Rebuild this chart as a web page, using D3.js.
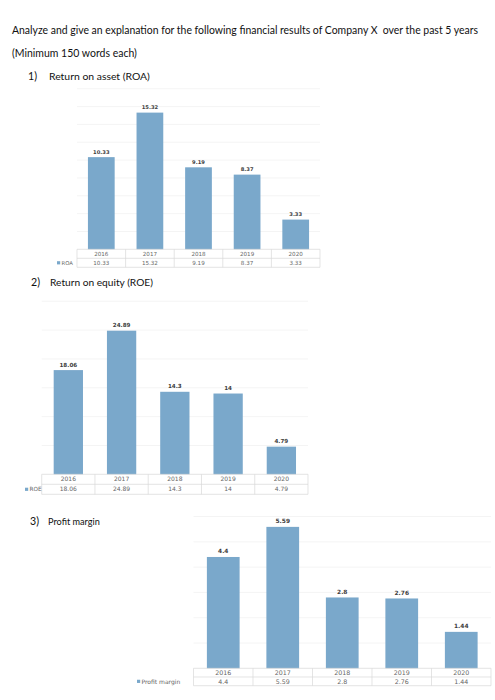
<!DOCTYPE html>
<html>
<head>
<meta charset="utf-8">
<script src="https://cdn.jsdelivr.net/npm/d3@7"></script>
<style>
  body { margin: 0; background: #fff; }
  svg { display: block; }
  .doc { font-family: Lato, "Open Sans", sans-serif; fill: #111; }
  .chart text { font-family: "DejaVu Sans", Verdana, sans-serif; }
</style>
</head>
<body>
<svg id="page"></svg>
<script>
// Data
const years = ["2016", "2017", "2018", "2019", "2020"];
const roa = [10.33, 15.32, 9.19, 8.37, 3.33];
const roe = [18.06, 24.89, 14.3, 14, 4.79];
const profitMargin = [4.4, 5.59, 2.8, 2.76, 1.44];

const roaTicks = [0, 2, 4, 6, 8, 10, 12, 14, 16, 18];
const roeTicks = [0, 5, 10, 15, 20, 25, 30];
const pmTicks = [0, 1, 2, 3, 4, 5, 6];

const width = 495;
const height = 700;
const barColor = "#7aa8cb";

const svg = d3.select("#page")
    .attr("width", width)
    .attr("height", height);

svg.append("rect").attr("width", width).attr("height", height).attr("fill", "#fff");

// Document text: scale the font so each line spans the width seen in the picture
const doc = svg.append("g").attr("class", "doc");

function fitText(x, y, str, target) {
    const t = doc.append("text").attr("x", x).attr("y", y).attr("font-size", 11).text(str);
    const w = t.node().getComputedTextLength();
    if (w > 0) t.attr("font-size", Math.min(13.5, 11 * target / w));
    return t;
}

fitText(12, 34, "Analyze and give an explanation for the following financial results of Company X  over the past 5 years", 464)
    .style("white-space", "pre");
fitText(12, 57, "(Minimum 150 words each)", 125);

const headings = [
    { num: "1)", label: "Return on asset (ROA)", xn: 28, xl: 49, y: 80, len: 101 },
    { num: "2)", label: "Return on equity (ROE)", xn: 31, xl: 50, y: 286, len: 103 },
    { num: "3)", label: "Profit margin", xn: 30, xl: 48, y: 525, len: 52 }
];

headings.forEach(h => {
    fitText(h.xn, h.y, h.num, 9);
    fitText(h.xl, h.y, h.label, h.len);
});

// One bar chart with a data table below it
function drawChart(cfg) {
    const g = svg.append("g").attr("class", "chart");

    const x = d3.scaleBand()
        .domain(years)
        .range([cfg.left, cfg.right])
        .paddingInner(0.45)
        .paddingOuter(0.225);

    const y = d3.scaleLinear()
        .domain([0, d3.max(cfg.ticks)])
        .range([cfg.base, cfg.top]);

    // faint gridlines
    g.append("g")
        .selectAll("line")
        .data(cfg.ticks.slice(1))
        .join("line")
        .attr("x1", cfg.left).attr("x2", cfg.right)
        .attr("y1", d => y(d)).attr("y2", d => y(d))
        .attr("stroke", "#f1f1f1")
        .attr("stroke-width", 0.8);

    const rows = years.map((yr, i) => ({ year: yr, value: cfg.values[i] }));

    g.selectAll("rect.bar")
        .data(rows)
        .join("rect")
        .attr("class", "bar")
        .attr("x", d => x(d.year))
        .attr("width", x.bandwidth())
        .attr("y", d => y(d.value))
        .attr("height", d => y(0) - y(d.value))
        .attr("fill", barColor);

    g.selectAll("text.val")
        .data(rows)
        .join("text")
        .attr("class", "val")
        .attr("x", d => x(d.year) + x.bandwidth() / 2)
        .attr("y", d => y(d.value) - 3.5)
        .attr("text-anchor", "middle")
        .attr("font-size", cfg.fs - 0.4)
        .attr("font-weight", "bold")
        .attr("fill", "#404040")
        .text(d => String(d.value));

    // data table
    const step = (cfg.right - cfg.left) / years.length;
    const r1 = cfg.base + cfg.rowH;
    const r2 = cfg.base + 2 * cfg.rowH;
    const lineColor = "#d9d9d9";

    [cfg.base, r1, r2].forEach(yy => {
        g.append("line")
            .attr("x1", cfg.left).attr("x2", cfg.right)
            .attr("y1", yy).attr("y2", yy)
            .attr("stroke", lineColor).attr("stroke-width", 0.7);
    });

    g.selectAll("line.col")
        .data(d3.range(years.length + 1))
        .join("line")
        .attr("class", "col")
        .attr("x1", i => cfg.left + i * step).attr("x2", i => cfg.left + i * step)
        .attr("y1", cfg.base).attr("y2", r2)
        .attr("stroke", lineColor).attr("stroke-width", 0.7);

    g.selectAll("text.cat")
        .data(rows)
        .join("text")
        .attr("class", "cat")
        .attr("x", d => x(d.year) + x.bandwidth() / 2)
        .attr("y", cfg.base + cfg.rowH * 0.5 + cfg.fs * 0.36)
        .attr("text-anchor", "middle")
        .attr("font-size", cfg.fs)
        .attr("fill", "#666")
        .text(d => d.year);

    g.selectAll("text.cell")
        .data(rows)
        .join("text")
        .attr("class", "cell")
        .attr("x", d => x(d.year) + x.bandwidth() / 2)
        .attr("y", r1 + cfg.rowH * 0.5 + cfg.fs * 0.36)
        .attr("text-anchor", "middle")
        .attr("font-size", cfg.fs)
        .attr("fill", "#666")
        .text(d => String(d.value));

    // legend key in the left cell
    const ly = r1 + cfg.rowH * 0.5;
    g.append("rect")
        .attr("x", cfg.legendX).attr("y", ly - 1.6)
        .attr("width", 3.2).attr("height", 3.2)
        .attr("fill", barColor);
    g.append("text")
        .attr("x", cfg.legendX + 4.5)
        .attr("y", ly + cfg.fs * 0.36)
        .attr("font-size", cfg.fs - 0.3)
        .attr("fill", "#666")
        .text(cfg.name);
}

drawChart({ name: "ROA", values: roa, ticks: roaTicks,
    left: 77, right: 320, top: 88.7, base: 249.3, rowH: 9, fs: 5.6, legendX: 57 });

drawChart({ name: "ROE", values: roe, ticks: roeTicks,
    left: 41.7, right: 308, top: 301.2, base: 474.3, rowH: 10, fs: 6, legendX: 25 });

drawChart({ name: "Profit margin", values: profitMargin, ticks: pmTicks,
    left: 193.5, right: 491, top: 516.5, base: 668.3, rowH: 8.7, fs: 6.3, legendX: 137 });
</script>
</body>
</html>
